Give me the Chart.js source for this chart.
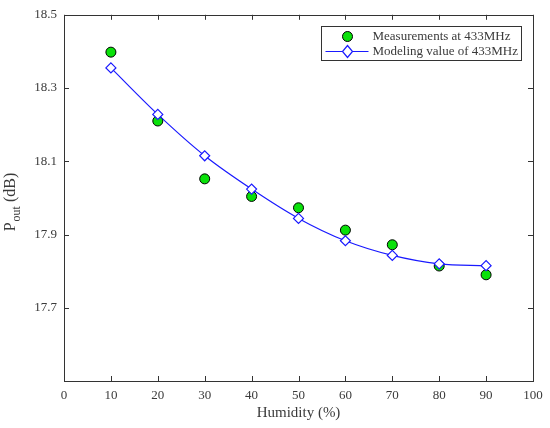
<!DOCTYPE html>
<html>
<head>
<meta charset="utf-8">
<script src="https://cdn.jsdelivr.net/npm/chart.js@4.4.0/dist/chart.umd.min.js"></script>
<style>
  html, body { margin: 0; padding: 0; background: #fff; }
  #wrap { width: 550px; height: 428px; }
</style>
</head>
<body>
<div id="wrap"><canvas id="chart"></canvas></div>
<script>
// humidity levels (%)
const humidity = [10, 20, 30, 40, 50, 60, 70, 80, 90];
// measured output power (dB)
const measured = [18.398, 18.210, 18.052, 18.004, 17.973, 17.912, 17.872, 17.814, 17.790];
// modeled output power (dB)
const modeled = [18.355, 18.228, 18.115, 18.024, 17.944, 17.883, 17.843, 17.820, 17.815];
// axis ticks
const xTicks = [0, 10, 20, 30, 40, 50, 60, 70, 80, 90, 100];
const yTicks = [17.5, 17.7, 17.9, 18.1, 18.3, 18.5];
const yLabels = [17.7, 17.9, 18.1, 18.3, 18.5];

const legendLabels = ['Measurements at 433MHz', 'Modeling value of 433MHz'];

const serif = '"Liberation Serif", "Times New Roman", serif';
const textColor = '#3a3a3a';
const frameColor = '#333333';
const green = 'rgb(10, 225, 10)';
const blue = '#1a1aff';

const toPoints = (xs, ys) => xs.map((x, i) => ({ x: x, y: ys[i] }));

// frame box with inward ticks on all four sides
const framePlugin = {
  id: 'frame',
  afterDraw(chart) {
    const { ctx, chartArea: a, scales } = chart;
    ctx.save();
    ctx.strokeStyle = frameColor;
    ctx.lineWidth = 1;
    ctx.strokeRect(Math.round(a.left) + 0.5, Math.round(a.top) + 0.5,
      Math.round(a.right - a.left), Math.round(a.bottom - a.top));
    const len = 5;
    ctx.beginPath();
    xTicks.forEach(v => {
      const px = Math.round(scales.x.getPixelForValue(v)) + 0.5;
      ctx.moveTo(px, a.bottom); ctx.lineTo(px, a.bottom - len);
      ctx.moveTo(px, a.top); ctx.lineTo(px, a.top + len);
    });
    yTicks.forEach(v => {
      const py = Math.round(scales.y.getPixelForValue(v)) + 0.5;
      ctx.moveTo(a.left, py); ctx.lineTo(a.left + len, py);
      ctx.moveTo(a.right, py); ctx.lineTo(a.right - len, py);
    });
    ctx.stroke();
    ctx.restore();
  }
};

// y title with subscript: P_out (dB)
const yTitlePlugin = {
  id: 'yTitle',
  afterDraw(chart) {
    const { ctx } = chart;
    const big = '16px ' + serif;
    const small = '12px ' + serif;
    ctx.save();
    ctx.fillStyle = textColor;
    ctx.textBaseline = 'alphabetic';
    ctx.font = big;
    const wP = ctx.measureText('P').width + 1;
    const wRest = ctx.measureText(' (dB)').width;
    ctx.font = small;
    const wSub = ctx.measureText('out').width;
    const total = wP + wSub + wRest;
    ctx.translate(15, 202);
    ctx.rotate(-Math.PI / 2);
    let x = -total / 2;
    ctx.font = big;
    ctx.fillText('P', x, 0);
    x += wP;
    ctx.font = small;
    ctx.fillText('out', x, 5);
    x += wSub;
    ctx.font = big;
    ctx.fillText(' (dB)', x, 0);
    ctx.restore();
  }
};

// legend box in the top-right corner
const legendPlugin = {
  id: 'boxLegend',
  afterDraw(chart) {
    const { ctx, chartArea: a } = chart;
    const boxW = 200, boxH = 34;
    const bx = Math.round(a.right - 12 - boxW) + 0.5;
    const by = Math.round(a.top + 11) + 0.5;
    ctx.save();
    ctx.fillStyle = '#fff';
    ctx.fillRect(bx, by, boxW, boxH);
    ctx.strokeStyle = frameColor;
    ctx.lineWidth = 1;
    ctx.strokeRect(bx, by, boxW, boxH);

    const mx = bx + 26;
    const row1 = by + 10;
    const row2 = by + 25;

    ctx.beginPath();
    ctx.arc(mx, row1, 5, 0, Math.PI * 2);
    ctx.fillStyle = green;
    ctx.fill();
    ctx.strokeStyle = '#000';
    ctx.stroke();

    ctx.beginPath();
    ctx.strokeStyle = blue;
    ctx.lineWidth = 1.2;
    ctx.moveTo(bx + 4, row2); ctx.lineTo(bx + 47, row2);
    ctx.stroke();
    ctx.beginPath();
    ctx.moveTo(mx, row2 - 6); ctx.lineTo(mx + 5, row2);
    ctx.lineTo(mx, row2 + 6); ctx.lineTo(mx - 5, row2);
    ctx.closePath();
    ctx.fillStyle = '#fff';
    ctx.fill();
    ctx.stroke();

    ctx.fillStyle = textColor;
    ctx.font = '13px ' + serif;
    ctx.textBaseline = 'middle';
    ctx.fillText(legendLabels[0], bx + 51, row1);
    ctx.fillText(legendLabels[1], bx + 51, row2);
    ctx.restore();
  }
};

new Chart(document.getElementById('chart'), {
  type: 'scatter',
  data: {
    datasets: [
      {
        label: legendLabels[1],
        data: toPoints(humidity, modeled),
        showLine: true,
        borderColor: blue,
        borderWidth: 1.2,
        cubicInterpolationMode: 'monotone',
        pointStyle: 'rectRot',
        pointRadius: 5,
        pointBorderWidth: 1.2,
        pointBackgroundColor: '#fff',
        pointBorderColor: blue,
        order: 2,
      },
      {
        label: legendLabels[0],
        data: toPoints(humidity, measured),
        showLine: false,
        pointStyle: 'circle',
        pointRadius: 5,
        pointBorderWidth: 1,
        pointBackgroundColor: green,
        pointBorderColor: '#000',
        order: 3,
      },
    ],
  },
  options: {
    responsive: true,
    maintainAspectRatio: false,
    animation: false,
    layout: { padding: { top: 12, right: 17, left: 0, bottom: 0 } },
    plugins: {
      legend: { display: false },
      tooltip: { enabled: false },
    },
    scales: {
      x: {
        type: 'linear',
        min: 0,
        max: 100,
        grid: { display: false, tickLength: 0 },
        border: { display: false },
        afterBuildTicks: s => { s.ticks = xTicks.map(v => ({ value: v })); },
        ticks: {
          padding: 7,
          color: textColor,
          font: { family: serif, size: 13 },
          maxRotation: 0,
        },
        title: {
          display: true,
          text: 'Humidity (%)',
          color: textColor,
          font: { family: serif, size: 15 },
          padding: { top: 0, bottom: 6 },
        },
        afterFit: s => { s.height = 47; },
      },
      y: {
        type: 'linear',
        min: 17.5,
        max: 18.5,
        grid: { display: false, tickLength: 0 },
        border: { display: false },
        afterBuildTicks: s => { s.ticks = yLabels.map(v => ({ value: v })); },
        ticks: {
          padding: 7,
          color: textColor,
          font: { family: serif, size: 13 },
          callback: v => v.toFixed(1),
        },
        afterFit: s => { s.width = 64; },
      },
    },
  },
  plugins: [framePlugin, yTitlePlugin, legendPlugin],
});
</script>
</body>
</html>
